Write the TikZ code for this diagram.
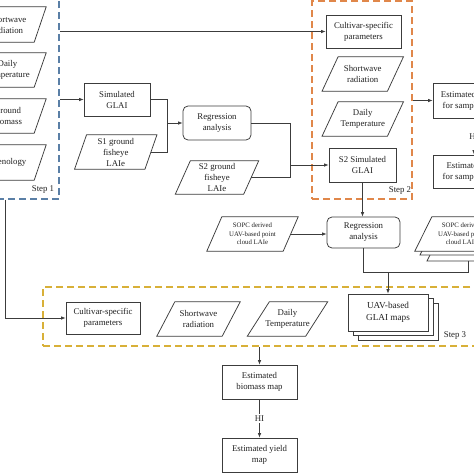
\documentclass[tikz,border=0pt]{standalone}
\usepackage{fontspec}
\setmainfont{Liberation Serif}
\usetikzlibrary{arrows.meta,calc}
\definecolor{lc}{HTML}{3C3C3C}
\definecolor{txt}{HTML}{222222}
\definecolor{blued}{HTML}{5A7FA6}
\definecolor{oranged}{HTML}{E0874A}
\definecolor{yellowd}{HTML}{D8B038}
\newcommand\mainfs{\fontsize{8.8}{11}\selectfont}
\newcommand\smallfs{\fontsize{6.8}{8.6}\selectfont}
\newcommand\bigfs{\fontsize{9.2}{12}\selectfont}
\newcommand\drawpara[2]{\draw[ln, fill=white] ([xshift=#2]#1.north west) -- ([xshift=#2]#1.north east) -- ([xshift=-#2]#1.south east) -- ([xshift=-#2]#1.south west) -- cycle;}
\begin{document}
\begin{tikzpicture}[x=1pt,y=-1pt,
  ln/.style={draw=lc, line width=0.75pt},
  arr/.style={ln, -{Latex[length=4.5pt,width=3.5pt]}},
  box/.style={ln, fill=white, align=center, inner sep=1pt, font=\mainfs, text=txt},
  rbox/.style={box, rounded corners=5pt},
  para/.style={draw=none, align=center, inner sep=0pt, font=\mainfs, text=txt},
  dashbox/.style={line width=1.5pt, dash pattern=on 7pt off 4pt, inner sep=0pt},
  steplab/.style={font=\mainfs, inner sep=0pt, text=txt},
  hi/.style={fill=white, font=\mainfs, text=txt, inner sep=1.5pt}]
\useasboundingbox (0,0) rectangle (474,474);
\fill[white] (0,0) rectangle (474,474);
\clip (0,0) rectangle (474,474);

% step boxes
\node[dashbox, draw=blued, minimum width=139pt, minimum height=204pt] (st1) at (-10.5,97) {};
\node[dashbox, draw=oranged, minimum width=100pt, minimum height=198pt] (st2) at (362,100) {};
\node[dashbox, draw=yellowd, minimum width=437pt, minimum height=59pt] (st3) at (261.5,316.5) {};
\node[steplab] (lab1) at (43,190) {Step 1};
\node[steplab] (lab2) at (400,191) {Step 2};
\node[steplab] (lab3) at (455,336) {Step 3};

% step 1 inputs
\node[para, minimum width=65pt, minimum height=35pt] (l1) at (7.5,24.5) {};
\drawpara{l1}{6pt}\node[para] (l1t) at (l1) {Shortwave\\radiation};
\node[para, minimum width=65pt, minimum height=34pt] (l2) at (7.5,70) {};
\drawpara{l2}{6pt}\node[para] (l2t) at (l2) {Daily\\Temperature};
\node[para, minimum width=65pt, minimum height=34pt] (l3) at (7.5,116) {};
\drawpara{l3}{6pt}\node[para] (l3t) at (l3) {Ground\\biomass};
\node[para, minimum width=65pt, minimum height=35pt] (l4) at (7.5,162.5) {};
\drawpara{l4}{6pt}\node[para] (l4t) at (l4) {Phenology};

% stage 1 middle
\node[box, minimum width=66pt, minimum height=33pt] (sim) at (117,99.5) {Simulated\\GLAI};
\node[para, minimum width=70pt, minimum height=34pt] (s1) at (115.75,152) {};
\drawpara{s1}{6pt}\node[para] (s1t) at (s1) {S1 ground\\fisheye\\LAIe};
\node[rbox, minimum width=68pt, minimum height=34pt] (reg1) at (217,123) {Regression\\analysis};
\node[para, minimum width=68pt, minimum height=33pt] (s2g) at (217,177.5) {};
\drawpara{s2g}{7.5pt}\node[para] (s2gt) at (s2g) {S2 ground\\fisheye\\LAIe};

% step 2
\node[box, minimum width=75pt, minimum height=33pt] (cult2) at (363.5,31.5) {Cultivar-specific\\parameters};
\node[para, minimum width=65pt, minimum height=34pt] (sw2) at (362.75,74) {};
\drawpara{sw2}{8pt}\node[para] (sw2t) at (sw2) {Shortwave\\radiation};
\node[para, minimum width=65pt, minimum height=34pt] (dt2) at (362.75,119) {};
\drawpara{dt2}{8pt}\node[para] (dt2t) at (dt2) {Daily\\Temperature};
\node[box, minimum width=67pt, minimum height=34pt] (s2sim) at (362.5,165) {S2 Simulated\\GLAI};

% right column
\node[box, minimum width=82pt, minimum height=35pt] (e1) at (474,100.5) {Estimated biomass\\for sampling sites};
\node[box, minimum width=82pt, minimum height=33pt] (e2) at (474,171.5) {Estimated yield\\for sampling sites};

% regression 2 and SOPC inputs
\node[rbox, minimum width=73pt, minimum height=31pt] (reg2) at (363.5,232.5) {Regression\\analysis};
\node[para, minimum width=76pt, minimum height=34pt] (sopc1) at (252.5,234) {};
\drawpara{sopc1}{7.5pt}\node[para, font=\smallfs] (sopc1t) at (sopc1) {SOPC derived\\UAV-based point\\cloud LAIe};
\draw[ln, fill=white] (444,227) -- (520,227) -- (503,261) -- (427,261) -- cycle;
\draw[ln, fill=white] (437,221) -- (513,221) -- (496,255) -- (420,255) -- cycle;
\node[para, minimum width=76pt, minimum height=34pt] (sopc2) at (461.5,234) {};
\drawpara{sopc2}{8.5pt}\node[para, font=\smallfs] (sopc2t) at (sopc2) {SOPC derived\\UAV-based point\\cloud LAIe};
\coordinate (sopcbot) at (468,261);

% step 3
\node[box, minimum width=74pt, minimum height=32pt] (cult3) at (103,318) {Cultivar-specific\\parameters};
\node[para, minimum width=65pt, minimum height=34pt] (sw3) at (198.5,319) {};
\drawpara{sw3}{9pt}\node[para] (sw3t) at (sw3) {Shortwave\\radiation};
\node[para, minimum width=58pt, minimum height=34pt] (dt3) at (287.5,319) {};
\drawpara{dt3}{11pt}\node[para] (dt3t) at (dt3) {Daily\\Temperature};
\draw[ln, fill=white] (358,303) rectangle (438,340);
\draw[ln, fill=white] (353,298) rectangle (433,335);
\node[box, font=\bigfs, minimum width=80pt, minimum height=37pt] (glai) at (388,312.5) {UAV-based\\GLAI maps};

% outputs
\node[box, minimum width=75pt, minimum height=34pt] (bm) at (259.5,382) {Estimated\\biomass map};
\node[box, minimum width=75pt, minimum height=34pt] (yield) at (259.5,455) {Estimated yield\\map};

% connectors
\coordinate (j1) at (167,123);
\coordinate (j2) at (290,165);
\coordinate (j3) at (388,272);
\draw[arr] (st1.east |- cult2.west) -- (cult2.west);
\draw[arr] (st1.east |- sim.west) -- (sim.west);
\draw[ln] (sim.east) -| (j1);
\draw[ln] (s1.east) -| (j1);
\draw[arr] (j1) -- (reg1.west);
\draw[ln] (reg1.east) -| (j2);
\draw[ln] (s2g.east) -| (j2);
\draw[arr] (j2) -- (s2sim.west);
\draw[arr] (st2.east |- e1.west) -- (e1.west);
\draw[arr] (e1.south) -- node[hi]{HI} (e2.north);
\draw[arr] (s2sim.south) -- (s2sim.south |- reg2.north);
\draw[arr] (sopc1.east) -- (sopc1.east -| reg2.west);
\draw[ln] (reg2.south) |- (j3);
\draw[ln] (sopcbot) |- (j3);
\draw[arr] (j3) -- (glai.north -| j3);
\draw[arr] ([xshift=15.5pt]st1.south) |- (cult3.west);
\draw[arr] (st3.south -| bm.north) -- (bm.north);
\draw[arr] (bm.south) -- node[hi]{HI} (yield.north);
\end{tikzpicture}
\end{document}
